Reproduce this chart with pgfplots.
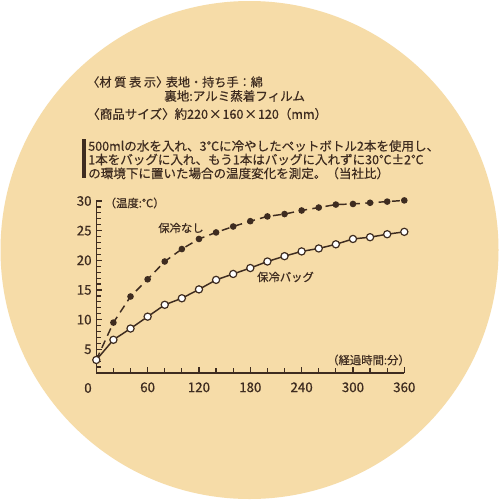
\documentclass[border=0pt]{standalone}
\usepackage{pgfplots}
\pgfplotsset{compat=1.18}
\usepackage{fontspec}
\setmainfont{Noto Sans CJK JP}[FakeBold=0.5]
\definecolor{bg}{RGB}{246,220,168}
\definecolor{ink}{RGB}{62,44,32}
\begin{document}
\begin{tikzpicture}
\begin{scope}[x=0.75pt,y=-0.75pt]
\fill[white] (0,0) rectangle (499,500);
\fill[bg] (249.5,250) circle[radius=186.75pt];
\begin{scope}[every node/.style={inner sep=0pt, text=ink, font=\fontsize{9.4}{10}\selectfont}]
\node[anchor=west, font=\fontsize{9.1}{10}\selectfont] at (87,82) {〈材 質 表 示〉\kern-0.2em 表地・持ち手：綿};
\node[anchor=west] at (164,96) {裏地:アルミ蒸着フィルム};
\node[anchor=west] at (87,114) {〈商品サイズ〉約220\kern0.08em×\kern0.08em 160\kern0.08em×\kern0.08em 120（mm）};
\node[anchor=west] at (88,146) {500mlの水を入れ、3℃に冷やしたペットボトル2本を使用し、};
\node[anchor=west] at (88,159.5) {1本をバッグに入れ、もう1本はバッグに入れずに30℃±2℃};
\node[anchor=west] at (88,173.3) {の環境下に置いた場合の温度変化を測定。（当社比）};
\end{scope}
\fill[ink] (81.5,139) rectangle (85.5,178);
\end{scope}
\begin{axis}[
  at={(72.225pt,-279.75pt)}, anchor=south west,
  scale only axis, width=231pt, height=129pt,
  xmin=0, xmax=360, ymin=1, ymax=30,
  axis lines=left,
  axis line style={-, line width=1.1pt, ink},
  every tick/.style={ink, line width=0.9pt},
  tick align=inside,
  major tick length=4.5pt, minor tick length=3.6pt,
  xtick={60,120,...,360}, minor xtick={20,40,...,340},
  ytick={5,10,...,30}, minor ytick={1,2,...,29},
  ticklabel style={font=\fontsize{10}{11}\selectfont, text=ink},
  /pgf/number format/assume math mode=true,
  xticklabel style={yshift=-3.5pt},
  clip=false,
]
\addplot[ink, line width=1.1pt, dash pattern=on 6pt off 4pt, mark=*, mark size=1.9pt, mark options={solid, fill=ink, draw=ink}] coordinates {
(0,3.2)(20,9.5)(40,13.9)(60,16.8)(80,19.8)(100,21.9)(120,23.6)(140,24.7)(160,25.7)(180,26.6)(200,27.4)(220,27.8)(240,28.4)(260,28.9)(280,29.4)(300,29.5)(320,29.7)(340,29.9)(360,30.1)};
\addplot[ink, line width=1.1pt, mark=*, mark size=2.7pt, mark options={solid, fill=white, draw=ink, line width=0.9pt}] coordinates {
(0,3.2)(20,6.6)(40,8.5)(60,10.5)(80,12.5)(100,13.6)(120,15.1)(140,16.7)(160,17.7)(180,18.7)(200,19.8)(220,20.7)(240,21.5)(260,22.0)(280,22.7)(300,23.6)(320,23.9)(340,24.4)(360,24.8)};
\end{axis}
\begin{scope}[x=0.75pt,y=-0.75pt, every node/.style={inner sep=0pt, text=ink, font=\fontsize{8.5}{9}\selectfont}]
\node[anchor=west] at (104.5,203) {（温度:℃）};
\node at (181,228) {保冷なし};
\node at (285.5,277) {保冷バッグ};
\node at (368.5,360) {（経過時間:分）};
\node[font=\fontsize{10}{11}\selectfont] at (88,388) {0};
\end{scope}
\pgfresetboundingbox
\useasboundingbox (0,0) rectangle (374.25pt,-375pt);
\end{tikzpicture}
\end{document}
